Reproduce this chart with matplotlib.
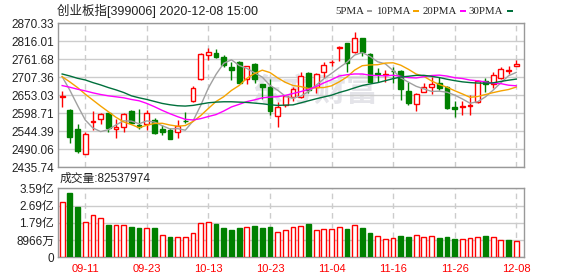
import numpy as np
import matplotlib
matplotlib.use("Agg")
import matplotlib.pyplot as plt
from matplotlib.patches import Rectangle

plt.rcParams['font.family'] = ['Liberation Sans', 'Noto Sans CJK SC']

# trading days shown (60 bars)
dates = ["09-08", "09-09", "09-10", "09-11", "09-14", "09-15", "09-16", "09-17", "09-18",
         "09-21", "09-22", "09-23", "09-24", "09-25", "09-28", "09-29", "09-30",
         "10-09", "10-12", "10-13", "10-14", "10-15", "10-16", "10-19", "10-20", "10-21",
         "10-22", "10-23", "10-26", "10-27", "10-28", "10-29", "10-30",
         "11-02", "11-03", "11-04", "11-05", "11-06", "11-09", "11-10", "11-11", "11-12",
         "11-13", "11-16", "11-17", "11-18", "11-19", "11-20", "11-23", "11-24", "11-25",
         "11-26", "11-27", "11-30", "12-01", "12-02", "12-03", "12-04", "12-07", "12-08"]

opens = [2648, 2609, 2551, 2475, 2571, 2581, 2599, 2552, 2558, 2606,
         2562, 2565, 2579, 2551, 2548, 2541, 2576, 2634, 2702, 2774,
         2780, 2768, 2737, 2753, 2702, 2748, 2687, 2679, 2589, 2624,
         2647, 2647, 2721, 2677, 2724, 2752, 2795, 2812, 2783, 2825,
         2777, 2720, 2715, 2727, 2727, 2667, 2627, 2664, 2679, 2691,
         2679, 2617, 2617, 2620, 2631, 2697, 2686, 2704, 2726, 2741]
highs = [2665, 2610, 2565, 2541, 2606, 2600, 2600, 2582, 2600, 2608,
         2610, 2609, 2584, 2563, 2553, 2579, 2601, 2682, 2780, 2795,
         2793, 2773, 2753, 2755, 2742, 2750, 2688, 2701, 2631, 2654,
         2677, 2724, 2724, 2719, 2752, 2760, 2802, 2812, 2845, 2826,
         2780, 2735, 2730, 2737, 2729, 2694, 2661, 2689, 2707, 2709,
         2681, 2634, 2634, 2654, 2699, 2704, 2722, 2737, 2740, 2760]
lows = [2617, 2508, 2477, 2475, 2548, 2566, 2541, 2523, 2541, 2565,
        2550, 2548, 2537, 2533, 2520, 2523, 2568, 2631, 2699, 2758,
        2765, 2737, 2699, 2690, 2686, 2691, 2642, 2594, 2556, 2617,
        2634, 2644, 2659, 2661, 2704, 2740, 2755, 2724, 2781, 2770,
        2693, 2694, 2694, 2691, 2639, 2624, 2604, 2662, 2657, 2669,
        2612, 2586, 2594, 2594, 2629, 2664, 2674, 2701, 2717, 2740]
closes = [2650, 2526, 2483, 2535, 2574, 2596, 2555, 2556, 2596, 2569,
          2556, 2599, 2538, 2541, 2521, 2560, 2575, 2676, 2777, 2785,
          2767, 2743, 2728, 2691, 2740, 2702, 2677, 2604, 2617, 2649,
          2671, 2711, 2669, 2716, 2744, 2754, 2798, 2750, 2825, 2783,
          2694, 2718, 2718, 2725, 2671, 2629, 2656, 2679, 2687, 2674,
          2614, 2612, 2621, 2622, 2697, 2687, 2714, 2731, 2729, 2748]

# volume in 亿
volumes = [2.90, 3.35, 2.62, 1.82, 2.18, 2.03, 1.68, 1.68, 1.68, 1.58,
           1.53, 1.53, 1.53, 1.14, 1.06, 1.04, 1.04, 1.27, 1.77, 1.82,
           1.73, 1.53, 1.42, 1.53, 1.56, 1.63, 1.53, 1.58, 1.32, 1.41,
           1.56, 1.61, 1.73, 1.42, 1.46, 1.46, 1.56, 1.47, 1.66, 1.53,
           1.27, 1.09, 0.94, 0.99, 1.09, 1.04, 1.14, 1.04, 1.09, 0.99,
           1.04, 0.94, 0.94, 0.99, 1.04, 1.09, 1.04, 0.88, 0.88, 0.825]
last_volume = 82537974

ma5 = [2709, 2668, 2622, 2578, 2553.6, 2542.8, 2548.6, 2563.2, 2575.4, 2574.4,
       2566.4, 2575.2, 2571.6, 2560.6, 2551.0, 2551.8, 2547.0, 2574.6, 2621.8, 2674.6,
       2716.0, 2749.6, 2760.0, 2742.8, 2733.8, 2720.8, 2707.6, 2682.8, 2668.0, 2649.8,
       2643.6, 2650.4, 2663.4, 2683.2, 2702.2, 2718.8, 2736.2, 2752.4, 2774.2, 2782.0,
       2770.0, 2754.0, 2747.6, 2727.6, 2705.2, 2692.2, 2679.8, 2672.0, 2664.4, 2665.0,
       2662.0, 2653.2, 2641.6, 2628.6, 2633.2, 2647.8, 2668.2, 2690.2, 2711.6, 2721.8]
ma10 = [2709, 2693, 2676, 2656, 2638, 2620, 2603, 2586, 2572, 2564.0,
        2554.6, 2561.9, 2567.4, 2568.0, 2562.7, 2559.1, 2561.1, 2573.1, 2591.2, 2612.8,
        2633.9, 2648.3, 2667.3, 2682.3, 2704.2, 2718.4, 2728.6, 2721.4, 2705.4, 2691.8,
        2682.2, 2679.0, 2673.1, 2675.6, 2676.0, 2681.2, 2693.3, 2707.9, 2728.7, 2742.1,
        2744.4, 2745.1, 2750.0, 2750.9, 2743.6, 2731.1, 2716.9, 2709.8, 2696.0, 2685.1,
        2677.1, 2666.5, 2656.8, 2646.5, 2649.1, 2654.9, 2660.7, 2665.9, 2670.1, 2677.5]
ma20 = [2682, 2677, 2671, 2666, 2660, 2655, 2651, 2648, 2645, 2640,
        2636, 2628, 2618, 2607, 2597, 2588, 2580, 2578, 2582, 2588.4,
        2594.3, 2605.1, 2617.4, 2625.2, 2633.5, 2638.8, 2644.9, 2647.3, 2648.3, 2652.3,
        2658.1, 2663.7, 2670.2, 2679.0, 2690.1, 2699.8, 2711.0, 2714.7, 2717.1, 2717.0,
        2713.3, 2712.1, 2711.6, 2713.3, 2709.8, 2706.2, 2705.1, 2708.9, 2712.4, 2713.6,
        2710.8, 2705.8, 2703.4, 2698.7, 2696.4, 2693.0, 2688.8, 2687.9, 2683.1, 2681.3]
ma30 = [2717, 2711, 2704, 2699, 2691, 2684, 2676, 2669, 2661, 2651,
        2645, 2640, 2634, 2628, 2624, 2621, 2620, 2622, 2626, 2630,
        2632, 2633, 2633, 2632, 2631, 2629, 2627, 2624, 2622, 2622.9,
        2623.6, 2629.7, 2635.9, 2642.0, 2647.6, 2652.9, 2661.0, 2667.5, 2675.1, 2682.2,
        2686.8, 2690.8, 2696.8, 2702.9, 2707.9, 2710.2, 2712.9, 2713.0, 2710.0, 2706.3,
        2701.2, 2696.9, 2693.3, 2691.0, 2689.6, 2689.1, 2690.3, 2694.5, 2698.3, 2701.6]

price_ticks = [2435.74, 2490.06, 2544.39, 2598.71, 2653.03, 2707.36, 2761.68, 2816.01, 2870.33]
vol_ticks = [0, 0.8966, 1.7932, 2.6898, 3.5864]
vol_tick_labels = ["0", "8966万", "1.79亿", "2.69亿", "3.59亿"]
date_labels = ["09-11", "09-23", "10-13", "10-23", "11-04", "11-16", "11-26", "12-08"]

RED = "#ff0000"
GREEN = "#008000"
GRID = "#cccccc"
FRAME = "#999999"
TXT = "#222222"

W, H = 582, 280
fig = plt.figure(figsize=(W / 100, H / 100), dpi=100)
ax = fig.add_axes([58.3 / W, 1 - 167 / H, 466 / W, 143.7 / H])
axv = fig.add_axes([58.3 / W, 1 - 257.3 / H, 466 / W, 69 / H])

o = np.array(opens, float)
c = np.array(closes, float)
hi = np.array(highs, float)
lo = np.array(lows, float)
x = np.arange(len(c))
up = c >= o

# watermark
ax.text(0.55, 0.515, "东方财富", transform=ax.transAxes, fontsize=23, fontweight="bold",
        color="#e4e4e9", ha="center", va="center", zorder=0, family=["Noto Sans CJK SC"])

# candles
ax.vlines(x, lo, hi, colors=np.where(up, RED, GREEN), lw=1, zorder=2)
bottom = np.minimum(o, c)
height = np.maximum(np.abs(c - o), 1.0)
bw = 0.62
ax.bar(x[up], height[up], bottom=bottom[up], width=bw, facecolor="white",
       edgecolor=RED, lw=1, zorder=3)
ax.bar(x[~up], height[~up], bottom=bottom[~up], width=bw, facecolor=GREEN,
       edgecolor=GREEN, lw=1, zorder=3)

ax.plot(x, ma5, color="#a0a0a0", lw=1, zorder=4)
ax.plot(x, ma10, color="#f5a300", lw=1, zorder=4)
ax.plot(x, ma20, color="#ff00ff", lw=1, zorder=4)
ax.plot(x, ma30, color="#00703c", lw=1, zorder=4)

# volume, colour by change vs previous close
prev = np.r_[o[0], c[:-1]]
vup = c >= prev
v = np.array(volumes)
axv.bar(x[vup], v[vup], width=bw, facecolor="white", edgecolor=RED, lw=1, zorder=3)
axv.bar(x[~vup], v[~vup], width=bw, facecolor=GREEN, edgecolor=GREEN, lw=1, zorder=3)

tick_pos = [dates.index(d) for d in date_labels]
for a in (ax, axv):
    a.set_xlim(-0.5, len(c) + 0.05)
    a.set_xticks(tick_pos)
    a.set_axisbelow(True)
    a.xaxis.grid(True, color=GRID, lw=1, ls=(0, (4, 3)))
    a.yaxis.grid(True, color=GRID, lw=1, ls="-")
    a.tick_params(length=0, labelsize=8.5, pad=3, colors=TXT)
    for s in a.spines.values():
        s.set_color(FRAME)
        s.set_linewidth(1)

ax.set_ylim(price_ticks[0], price_ticks[-1])
ax.set_yticks(price_ticks)
ax.set_yticklabels(["%.2f" % p for p in price_ticks])
ax.set_xticklabels([])

axv.set_ylim(vol_ticks[0], vol_ticks[-1])
axv.set_yticks(vol_ticks)
axv.set_yticklabels(vol_tick_labels)
axv.set_xticklabels(date_labels)
axv.tick_params(axis="x", labelsize=8, pad=5, labelcolor=RED)

# header text
fig.text(57 / W, 1 - 11 / H, "创业板指[399006] 2020-12-08 15:00", fontsize=9,
         color=TXT, ha="left", va="center")
fig.text(60 / W, 1 - 179 / H, "成交量:%d" % last_volume, fontsize=8.5,
         color=TXT, ha="left", va="center")

# legend
legend_items = [("5PMA", "#a0a0a0", 364, 366.5), ("10PMA", "#f5a300", 411, 413),
                ("20PMA", "#ff00ff", 457, 460), ("30PMA", "#00703c", 503, 507)]
for label, col, xe, xd in legend_items:
    fig.text(xe / W, 1 - 11 / H, label, fontsize=7.8, family=["Liberation Serif"],
             color=TXT, ha="right", va="center")
    fig.add_artist(Rectangle((xd / W, 1 - 12.3 / H), 5.5 / W, 2.6 / H,
                             transform=fig.transFigure, color=col, lw=0))

fig.savefig("out.png", dpi=100)
